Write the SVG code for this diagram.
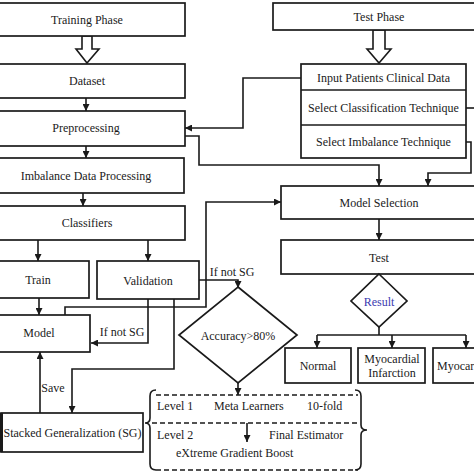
<svg xmlns="http://www.w3.org/2000/svg" width="474" height="474" viewBox="0 0 474 474">
<defs>
<marker id="ah" viewBox="0 0 10 10" refX="10" refY="5" markerWidth="7" markerHeight="7" markerUnits="userSpaceOnUse" orient="auto">
<path d="M0,0 L10,5 L0,10 z" fill="#1a1a1a"/>
</marker>
<style>
.b{fill:#fff;stroke:#1a1a1a;stroke-width:1.7}
.t{font-family:"Liberation Serif","Times New Roman",serif;font-size:12px;fill:#1a1a1a;text-anchor:middle;dominant-baseline:central}
.s{text-anchor:start}
.c{fill:none;stroke:#1a1a1a;stroke-width:1.6}
.a{marker-end:url(#ah)}
.d{fill:none;stroke:#1a1a1a;stroke-width:1.5;stroke-dasharray:5 3}
.h{fill:#fff;stroke:#1a1a1a;stroke-width:1.6}
</style>
</defs>
<rect width="474" height="474" fill="#fff"/>

<g id="connectors">
<path class="h" d="M82,36 V49 H76 L87,63 L99,49 H92 V36 z"/>
<path class="h" d="M373,30 V49 H367 L379,63 L391,49 H385 V30 z"/>
<path class="c a" d="M86,98 V111"/>
<path class="c a" d="M86,146 V158"/>
<path class="c a" d="M83,193 V206"/>
<path class="c a" d="M38,240 V261"/>
<path class="c a" d="M148,240 V261"/>
<path class="c a" d="M301,78 H243 V128 H185"/>
<path class="c a" d="M185,136 H199 V165 H379 V186"/>
<path class="c" d="M466,108 H476"/>
<path class="c a" d="M466,142 H471 V173 H428 V186"/>
<path class="c a" d="M65,315 V307 H206 V202 H281"/>
<path class="c a" d="M39,298 V315"/>
<path class="c a" d="M199,280 H238 V288"/>
<path class="c a" d="M148,299 V343 H91"/>
<path class="c a" d="M174,299 V369 H72 V413"/>
<path class="c a" d="M40,413 V352"/>
<path class="c a" d="M238,383 V395"/>
<path class="c a" d="M379,219 V240"/>
<path class="c" d="M379,327 V335"/>
<path class="c" d="M317,335 H466"/>
<path class="c a" d="M317,335 V348"/>
<path class="c a" d="M392,335 V348"/>
<path class="c a" d="M466,335 V348"/>
<path class="c a" d="M247,423 V442"/>
</g>

<g id="training-phase"><rect class="b" x="-10" y="3" width="195" height="33"/><text class="t" x="87" y="19.5">Training Phase</text></g>
<g id="dataset"><rect class="b" x="-10" y="64" width="195" height="34"/><text class="t" x="87" y="81">Dataset</text></g>
<g id="preprocessing"><rect class="b" x="-10" y="111" width="195" height="35"/><text class="t" x="86" y="128">Preprocessing</text></g>
<g id="imbalance-data-processing"><rect class="b" x="-10" y="158" width="194" height="35"/><text class="t" x="86" y="176">Imbalance Data Processing</text></g>
<g id="classifiers"><rect class="b" x="-10" y="206" width="195" height="34"/><text class="t" x="87" y="223">Classifiers</text></g>
<g id="train"><rect class="b" x="-12" y="261" width="101" height="37"/><text class="t" x="38" y="280">Train</text></g>
<g id="validation"><rect class="b" x="97" y="261" width="102" height="38"/><text class="t" x="148" y="281">Validation</text></g>
<g id="model"><rect class="b" x="-12" y="315" width="102" height="37"/><text class="t" x="39" y="333">Model</text></g>
<g id="stacked-generalization"><rect class="b" x="1" y="413" width="142" height="39"/><line x1="1.5" y1="413" x2="1.5" y2="452" stroke="#1a1a1a" stroke-width="3"/><text class="t" x="72.5" y="432.5">Stacked Generalization (SG)</text></g>

<g id="labels">
<text class="t" x="232" y="272">If not SG</text>
<text class="t" x="122" y="332">If not SG</text>
<text class="t" x="53" y="388">Save</text>
</g>

<g id="accuracy"><path class="b" d="M238,287 L297,335 L238,383 L179,335 z"/><text class="t" x="238" y="336">Accuracy&gt;80%</text></g>

<g id="stacking-levels">
<path class="c" d="M156,390 Q150,390 150,396 V418 Q150,423 145,423 Q150,423 150,428 V464 Q150,470 156,470"/>
<path class="c" d="M355,390 Q361,390 361,396 V425 Q361,430 367,430 Q361,430 361,435 V464 Q361,470 355,470"/>
<path class="d" d="M156,395 H358"/>
<path class="d" d="M152,423 H358"/>
<path class="d" d="M156,470 H358"/>
<text class="t s" x="157" y="406">Level 1</text>
<text class="t s" x="214" y="406">Meta Learners</text>
<text class="t s" x="307" y="406">10-fold</text>
<text class="t s" x="157" y="435">Level 2</text>
<text class="t s" x="269" y="435">Final Estimator</text>
<text class="t s" x="176" y="453">eXtreme Gradient Boost</text>
</g>

<g id="test-phase"><rect class="b" x="273" y="3" width="213" height="27"/><text class="t" x="379" y="16.5">Test Phase</text></g>
<g id="input-panel">
<rect class="b" x="301" y="64" width="165" height="94"/>
<line x1="301" y1="90" x2="466" y2="90" stroke="#1a1a1a" stroke-width="1.7"/>
<line x1="301" y1="125" x2="466" y2="125" stroke="#1a1a1a" stroke-width="1.7"/>
<text class="t" x="383.5" y="78">Input Patients Clinical Data</text>
<text class="t" x="383.5" y="108">Select Classification Technique</text>
<text class="t" x="383.5" y="142">Select Imbalance Technique</text>
</g>
<g id="model-selection"><rect class="b" x="281" y="186" width="205" height="33"/><text class="t" x="379" y="203">Model Selection</text></g>
<g id="test"><rect class="b" x="281" y="240" width="205" height="34"/><text class="t" x="379" y="258">Test</text></g>
<g id="result"><path class="b" d="M379,274 L407,301 L379,327 L351,301 z"/><text class="t" x="379" y="302" style="fill:#3a3ab0">Result</text></g>
<g id="normal"><rect class="b" x="285" y="348" width="66" height="35"/><text class="t" x="318" y="366">Normal</text></g>
<g id="myocardial-infarction"><rect class="b" x="358" y="348" width="67" height="35"/><text class="t" x="392" y="359">Myocardial</text><text class="t" x="392" y="373">Infarction</text></g>
<g id="third-class"><rect class="b" x="433" y="348" width="60" height="35"/><text class="t s" x="437" y="366">Myocar</text></g>
</svg>
